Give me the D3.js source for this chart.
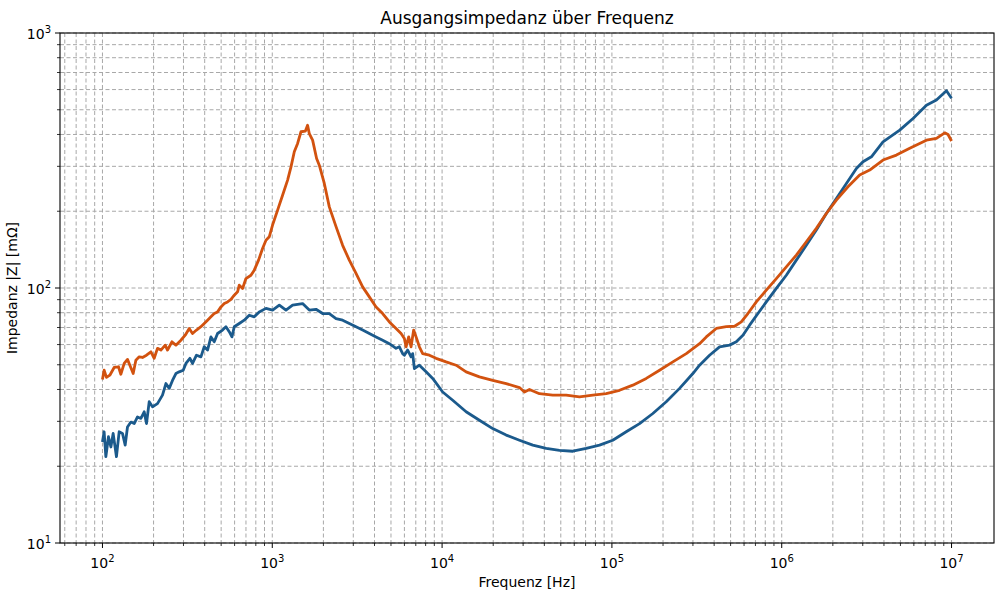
<!DOCTYPE html>
<html>
<head>
<meta charset="utf-8">
<script src="https://cdn.jsdelivr.net/npm/d3@7"></script>
<style>
  body { margin: 0; background: #fff; }
  svg { font-family: "DejaVu Sans", sans-serif; }
</style>
</head>
<body>
<svg id="chart" width="1000" height="602"></svg>
<script>
// Frequency points [Hz] and |Z| [mOhm]
const freqOrange = [100, 102.3, 105.6, 110.5, 117.2, 124.3, 128.3, 134.3, 140.4, 145, 151.7, 157.3, 164.6, 172.1, 181.7, 192.9, 201.7, 210.9, 220.9, 234.2, 241.6, 256.4, 270.7, 289.7, 307.1, 324.3, 339.1, 357.9, 380.1, 397.5, 415.7, 435.4, 455.3, 476.2, 498.7, 521.5, 545.4, 571.1, 597.3, 624.6, 639.2, 668.5, 699.8, 748.9, 783.2, 830.4, 876.6, 918.1, 960, 1004, 1075, 1150, 1231, 1289, 1348, 1410, 1476, 1565, 1614, 1652, 1728, 1824, 1892, 2025, 2167, 2374, 2596, 2842, 3113, 3405, 3729, 4085, 4467, 4892, 5357, 5734, 5997, 6135, 6357, 6567, 6801, 7028, 7349, 7686, 8416, 9218, 10560, 12090, 13850, 16590, 19870, 23840, 28550, 30550, 32690, 37440, 44850, 53790, 64430, 77200, 92560, 110900, 132800, 159300, 190800, 228500, 274100, 328300, 359500, 411700, 471600, 527800, 578000, 632000, 708600, 811500, 929400, 1064000, 1219000, 1396000, 1599000, 1831000, 2098000, 2455000, 2877000, 3296000, 3948000, 4735000, 5673000, 7114000, 8147000, 9120000, 9537000, 10000000];
const zOrange = [43.8, 47.6, 44.6, 45.5, 48.8, 49.1, 45.9, 50.6, 52.5, 49.8, 46.2, 52.1, 53.7, 53.4, 54.5, 56.2, 53.0, 58.0, 57.1, 59.7, 57.1, 61.5, 59.7, 62.4, 65.3, 69.4, 66.3, 68.4, 70.5, 72.6, 74.8, 77.1, 79.4, 80.6, 84.3, 86.9, 88.2, 90.2, 93.7, 96.6, 102.6, 99.6, 108.9, 112.2, 117.5, 128.6, 142.9, 154, 158.8, 176.6, 202, 231, 265, 298.6, 342, 369, 410, 412, 435, 403, 380, 322, 303, 257, 208, 174, 147, 128.6, 114, 101, 92.3, 84.3, 79.4, 73.6, 69.4, 66.3, 63.4, 58.8, 64.3, 58.8, 68.4, 64.3, 58.8, 55.3, 54.5, 53.0, 51.3, 49.8, 46.9, 44.8, 43.4, 42.2, 40.7, 39.1, 40.0, 38.5, 38.0, 38.0, 37.4, 38.0, 38.5, 39.7, 41.6, 44.2, 47.6, 51.3, 55.3, 60.5, 64.3, 69.4, 70.5, 70.8, 73.6, 79.4, 88.2, 98.1, 108.9, 121, 134.6, 151.8, 171.3, 196, 221, 249.5, 277.5, 290, 317.5, 332, 353, 380, 386, 406, 400, 377];

const freqBlue = [100, 102.3, 104.7, 108.5, 112.1, 115.6, 120.9, 125.4, 131.2, 136.1, 140.4, 147, 153.8, 160.8, 168.4, 176.1, 181.7, 188.5, 197.1, 210.9, 225.7, 236.4, 247.2, 258.5, 270.7, 283.1, 298.9, 310.1, 327.4, 339.1, 357.9, 380.1, 397.5, 415.7, 435.4, 455.3, 476.2, 509.5, 533.5, 557.9, 578.9, 597.3, 639.2, 683.9, 732, 783.2, 838.1, 918.1, 1004, 1100, 1204, 1317, 1508, 1652, 1809, 1979, 2167, 2374, 2596, 2842, 3113, 3405, 3729, 4085, 4467, 4892, 5357, 5603, 5858, 5997, 6271, 6567, 6711, 6868, 7349, 8048, 8803, 10080, 11550, 13850, 16590, 19870, 23840, 28550, 34200, 41030, 49130, 58840, 70580, 84530, 101200, 121400, 145500, 174200, 208900, 250300, 299800, 328300, 375900, 430600, 493200, 540200, 590800, 647000, 724200, 811500, 929400, 1064000, 1219000, 1396000, 1599000, 1831000, 2098000, 2403000, 2752000, 3009000, 3373000, 3948000, 4952000, 5932000, 7114000, 8147000, 9333000, 10000000];
const zBlue = [24.9, 27.3, 21.8, 26.1, 23.8, 26.9, 21.8, 27.3, 26.9, 24.2, 28.5, 29.8, 29.4, 31.2, 30.8, 32.7, 29.4, 35.8, 34.2, 35.2, 38.0, 42.2, 40.4, 43.4, 46.2, 46.9, 47.6, 50.6, 53.0, 50.6, 54.5, 53.7, 58.8, 57.1, 64.3, 61.5, 66.3, 68.4, 70.5, 67.4, 64.3, 70.5, 72.6, 74.8, 78.2, 77.1, 80.6, 83.2, 81.9, 85.7, 81.9, 85.7, 86.9, 81.9, 82.5, 79.4, 79.4, 75.9, 74.8, 72.6, 70.5, 68.4, 66.3, 64.3, 62.4, 60.5, 58.0, 58.8, 55.3, 54.5, 57.1, 53.7, 55.3, 48.3, 49.8, 46.9, 44.2, 39.1, 36.3, 32.7, 30.3, 28.1, 26.5, 25.3, 24.2, 23.5, 23.1, 22.9, 23.5, 24.2, 25.3, 27.3, 29.4, 32.2, 35.8, 40.4, 46.2, 49.8, 54.5, 58.8, 59.7, 61.5, 65.3, 71.5, 79.4, 88.2, 99.6, 112.2, 128.6, 147, 168.7, 196, 224.5, 257, 294, 312.6, 327, 374, 416, 462, 521, 546, 594, 555];

const xTickExps = [2, 3, 4, 5, 6, 7];
const yTickExps = [1, 2, 3];

const titleText = 'Ausgangsimpedanz über Frequenz';
const xLabelText = 'Frequenz [Hz]';
const yLabelText = 'Impedanz |Z| [mΩ]';

const margin = { top: 33, right: 6, bottom: 59, left: 60 };
const svg = d3.select('#chart');
const width = 1000 - margin.left - margin.right;
const height = 602 - margin.top - margin.bottom;

const g = svg.append('g').attr('transform', `translate(${margin.left}, ${margin.top})`);

const x = d3.scaleLog()
  .domain([Math.pow(10, 1.75), Math.pow(10, 7.25)])
  .range([0, width]);

const y = d3.scaleLog()
  .domain([10, 1000])
  .range([height, 0]);

// major + minor tick values inside the domain
function logTicks(scale) {
  const [lo, hi] = scale.domain();
  const major = [];
  const minor = [];
  for (let e = Math.floor(Math.log10(lo)); e <= Math.ceil(Math.log10(hi)); e += 1) {
    for (let m = 1; m < 10; m += 1) {
      const v = m * Math.pow(10, e);
      if (v < lo * 0.9999 || v > hi * 1.0001) continue;
      if (m === 1) major.push(v); else minor.push(v);
    }
  }
  return { major, minor };
}

const xt = logTicks(x);
const yt = logTicks(y);

const gridColor = '#a8a8a8';

// Grid
g.append('g').selectAll('line')
  .data(xt.major.concat(xt.minor))
  .enter().append('line')
  .attr('x1', (d) => x(d)).attr('x2', (d) => x(d))
  .attr('y1', 0).attr('y2', height)
  .attr('stroke', gridColor)
  .attr('stroke-width', 1)
  .attr('stroke-dasharray', '4 2.5');

g.append('g').selectAll('line')
  .data(yt.major.concat(yt.minor))
  .enter().append('line')
  .attr('y1', (d) => y(d)).attr('y2', (d) => y(d))
  .attr('x1', 0).attr('x2', width)
  .attr('stroke', gridColor)
  .attr('stroke-width', 1)
  .attr('stroke-dasharray', '4 2.5');

// Data lines
const line = d3.line()
  .x((d) => x(d[0]))
  .y((d) => y(d[1]));

g.append('path')
  .datum(d3.zip(freqBlue, zBlue))
  .attr('fill', 'none')
  .attr('stroke', '#1b5a8c')
  .attr('stroke-width', 2.8)
  .attr('stroke-linejoin', 'round')
  .attr('d', line);

g.append('path')
  .datum(d3.zip(freqOrange, zOrange))
  .attr('fill', 'none')
  .attr('stroke', '#d2520f')
  .attr('stroke-width', 2.8)
  .attr('stroke-linejoin', 'round')
  .attr('d', line);

// Ticks
const tickG = g.append('g').attr('stroke', '#000');
tickG.selectAll('line.xmaj').data(xt.major).enter().append('line')
  .attr('x1', (d) => x(d)).attr('x2', (d) => x(d))
  .attr('y1', height).attr('y2', height + 5).attr('stroke-width', 1);
tickG.selectAll('line.xmin').data(xt.minor).enter().append('line')
  .attr('x1', (d) => x(d)).attr('x2', (d) => x(d))
  .attr('y1', height).attr('y2', height + 3).attr('stroke-width', 0.8);
tickG.selectAll('line.ymaj').data(yt.major).enter().append('line')
  .attr('y1', (d) => y(d)).attr('y2', (d) => y(d))
  .attr('x1', 0).attr('x2', -5).attr('stroke-width', 1);
tickG.selectAll('line.ymin').data(yt.minor).enter().append('line')
  .attr('y1', (d) => y(d)).attr('y2', (d) => y(d))
  .attr('x1', 0).attr('x2', -3).attr('stroke-width', 0.8);

// Frame
g.append('rect')
  .attr('width', width).attr('height', height)
  .attr('fill', 'none')
  .attr('stroke', '#000')
  .attr('stroke-width', 1.1);

// Tick labels as 10^n
function powLabel(sel) {
  sel.append('tspan').text('10');
  sel.append('tspan').attr('dy', -6).attr('font-size', 10).text((d) => d);
}

g.append('g').selectAll('text')
  .data(xTickExps)
  .enter().append('text')
  .attr('x', (d) => x(Math.pow(10, d)))
  .attr('y', height + 25)
  .attr('text-anchor', 'middle')
  .attr('font-size', 14)
  .attr('fill', '#000')
  .call(powLabel);

g.append('g').selectAll('text')
  .data(yTickExps)
  .enter().append('text')
  .attr('x', -9)
  .attr('y', (d) => y(Math.pow(10, d)) + 6)
  .attr('text-anchor', 'end')
  .attr('font-size', 14)
  .attr('fill', '#000')
  .call(powLabel);

// Title and axis labels
svg.append('text')
  .attr('x', margin.left + width / 2)
  .attr('y', 24)
  .attr('text-anchor', 'middle')
  .attr('font-size', 17)
  .text(titleText);

svg.append('text')
  .attr('x', margin.left + width / 2)
  .attr('y', 587)
  .attr('text-anchor', 'middle')
  .attr('font-size', 14)
  .text(xLabelText);

svg.append('text')
  .attr('transform', `translate(17, ${margin.top + height / 2}) rotate(-90)`)
  .attr('text-anchor', 'middle')
  .attr('font-size', 14)
  .text(yLabelText);
</script>
</body>
</html>
